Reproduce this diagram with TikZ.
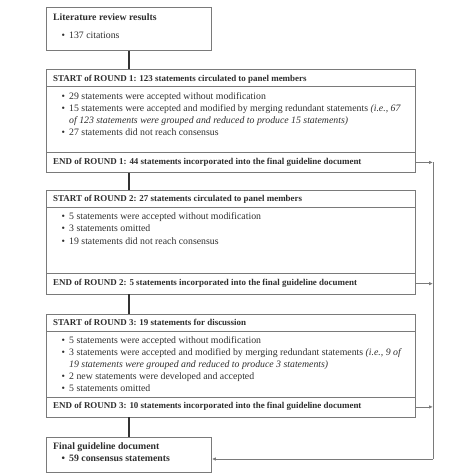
\documentclass[tikz,border=0pt]{standalone}
\usepackage{fontspec}
\setmainfont{Liberation Serif}
\usetikzlibrary{arrows.meta}
\definecolor{boxgray}{HTML}{7A7A7A}
\definecolor{txtgray}{HTML}{2E2E2E}
\definecolor{conngray}{HTML}{333333}
\newcommand{\bul}[1]{\makebox[7.5pt][l]{\textbullet}#1}
\begin{document}
\begin{tikzpicture}[x=1pt,y=-1pt,
 box/.style={draw=boxgray, line width=0.8pt, rectangle, inner sep=0pt, anchor=north west, minimum width=369pt},
 smallbox/.style={box, minimum width=165pt},
 txt/.style={anchor=base west, inner sep=0pt, text=txtgray, font=\fontsize{9.8}{12}\selectfont},
 hd/.style={txt, font=\fontsize{8.95}{11}\selectfont\bfseries},
 ttl/.style={txt, font=\fontsize{9.8}{12}\selectfont\bfseries},
 conn/.style={draw=conngray, line width=1.6pt},
 link/.style={draw=boxgray, line width=0.8pt},
 arr/.style={link, -{Latex[length=4pt,width=3.5pt]}}]
\useasboundingbox (0,0) rectangle (474,474);
% boxes
\node[smallbox, minimum height=43pt] (lit) at (46,7) {};
\node[box, minimum height=17pt] (r1h) at (46,69) {};
\node[box, minimum height=66pt] (r1b) at (46,86) {};
\node[box, minimum height=20pt] (r1e) at (46,152) {};
\node[box, minimum height=17pt] (r2h) at (46,190) {};
\node[box, minimum height=66pt] (r2b) at (46,207) {};
\node[box, minimum height=20.5pt] (r2e) at (46,273) {};
\node[box, minimum height=17pt] (r3h) at (46,313.5) {};
\node[box, minimum height=66pt] (r3b) at (46,330.5) {};
\node[box, minimum height=20pt] (r3e) at (46,396.5) {};
\node[smallbox, minimum height=35pt] (final) at (46,437) {};
% texts
\node[ttl] (t0) at (53,20) {Literature review results};
\node[txt] (t0a) at (61.5,38.3) {\bul{137 citations}};
\node[hd] (t1) at (53,81) {START of ROUND 1: 123 statements circulated to panel members};
\node[txt] (t1a) at (61.5,99) {\bul{29 statements were accepted without modification}};
\node[txt] (t1b) at (61.5,111) {\bul{15 statements were accepted and modified by merging redundant statements \textit{(i.e., 67}}};
\node[txt] (t1c) at (69,123) {\textit{of 123 statements were grouped and reduced to produce 15 statements)}};
\node[txt] (t1d) at (61.5,135) {\bul{27 statements did not reach consensus}};
\node[hd] (t1e) at (53,164) {END of ROUND 1: 44 statements incorporated into the final guideline document};
\node[hd] (t2) at (53,201.7) {START of ROUND 2: 27 statements circulated to panel members};
\node[txt] (t2a) at (61.5,219.3) {\bul{5 statements were accepted without modification}};
\node[txt] (t2b) at (61.5,231.7) {\bul{3 statements omitted}};
\node[txt] (t2c) at (61.5,244) {\bul{19 statements did not reach consensus}};
\node[hd] (t2e) at (53,285) {END of ROUND 2: 5 statements incorporated into the final guideline document};
\node[hd] (t3) at (53,325.3) {START of ROUND 3: 19 statements for discussion};
\node[txt] (t3a) at (61.5,343.3) {\bul{5 statements were accepted without modification}};
\node[txt] (t3b) at (61.5,355.5) {\bul{3 statements were accepted and modified by merging redundant statements \textit{(i.e., 9 of}}};
\node[txt] (t3c) at (69,367) {\textit{19 statements were grouped and reduced to produce 3 statements)}};
\node[txt] (t3d) at (61.5,379) {\bul{2 new statements were developed and accepted}};
\node[txt] (t3f) at (61.5,391) {\bul{5 statements omitted}};
\node[hd] (t3e) at (53,408.3) {END of ROUND 3: 10 statements incorporated into the final guideline document};
\node[ttl] (t4) at (53,449.3) {Final guideline document};
\node[ttl] (t4a) at (61.5,461.7) {\bul{59 consensus statements}};
% vertical connectors
\draw[conn] (lit.south) -- (lit.south |- r1h.north);
\draw[conn] (lit.south |- r1e.south) -- (lit.south |- r2h.north);
\draw[conn] (lit.south |- r2e.south) -- (lit.south |- r3h.north);
\draw[conn] (lit.south |- r3e.south) -- (final.north);
% side arrows
\coordinate (fin) at (433,459);
\draw[arr] (r1e.east) -- (r1e.east -| fin);
\draw[arr] (r2e.east) -- (r2e.east -| fin);
\draw[arr] (r3e.east) -- (r3e.east -| fin);
\draw[link] (r1e.east -| fin) -- (fin);
\draw[arr] (fin) -- (final.east |- fin);
\end{tikzpicture}
\end{document}
